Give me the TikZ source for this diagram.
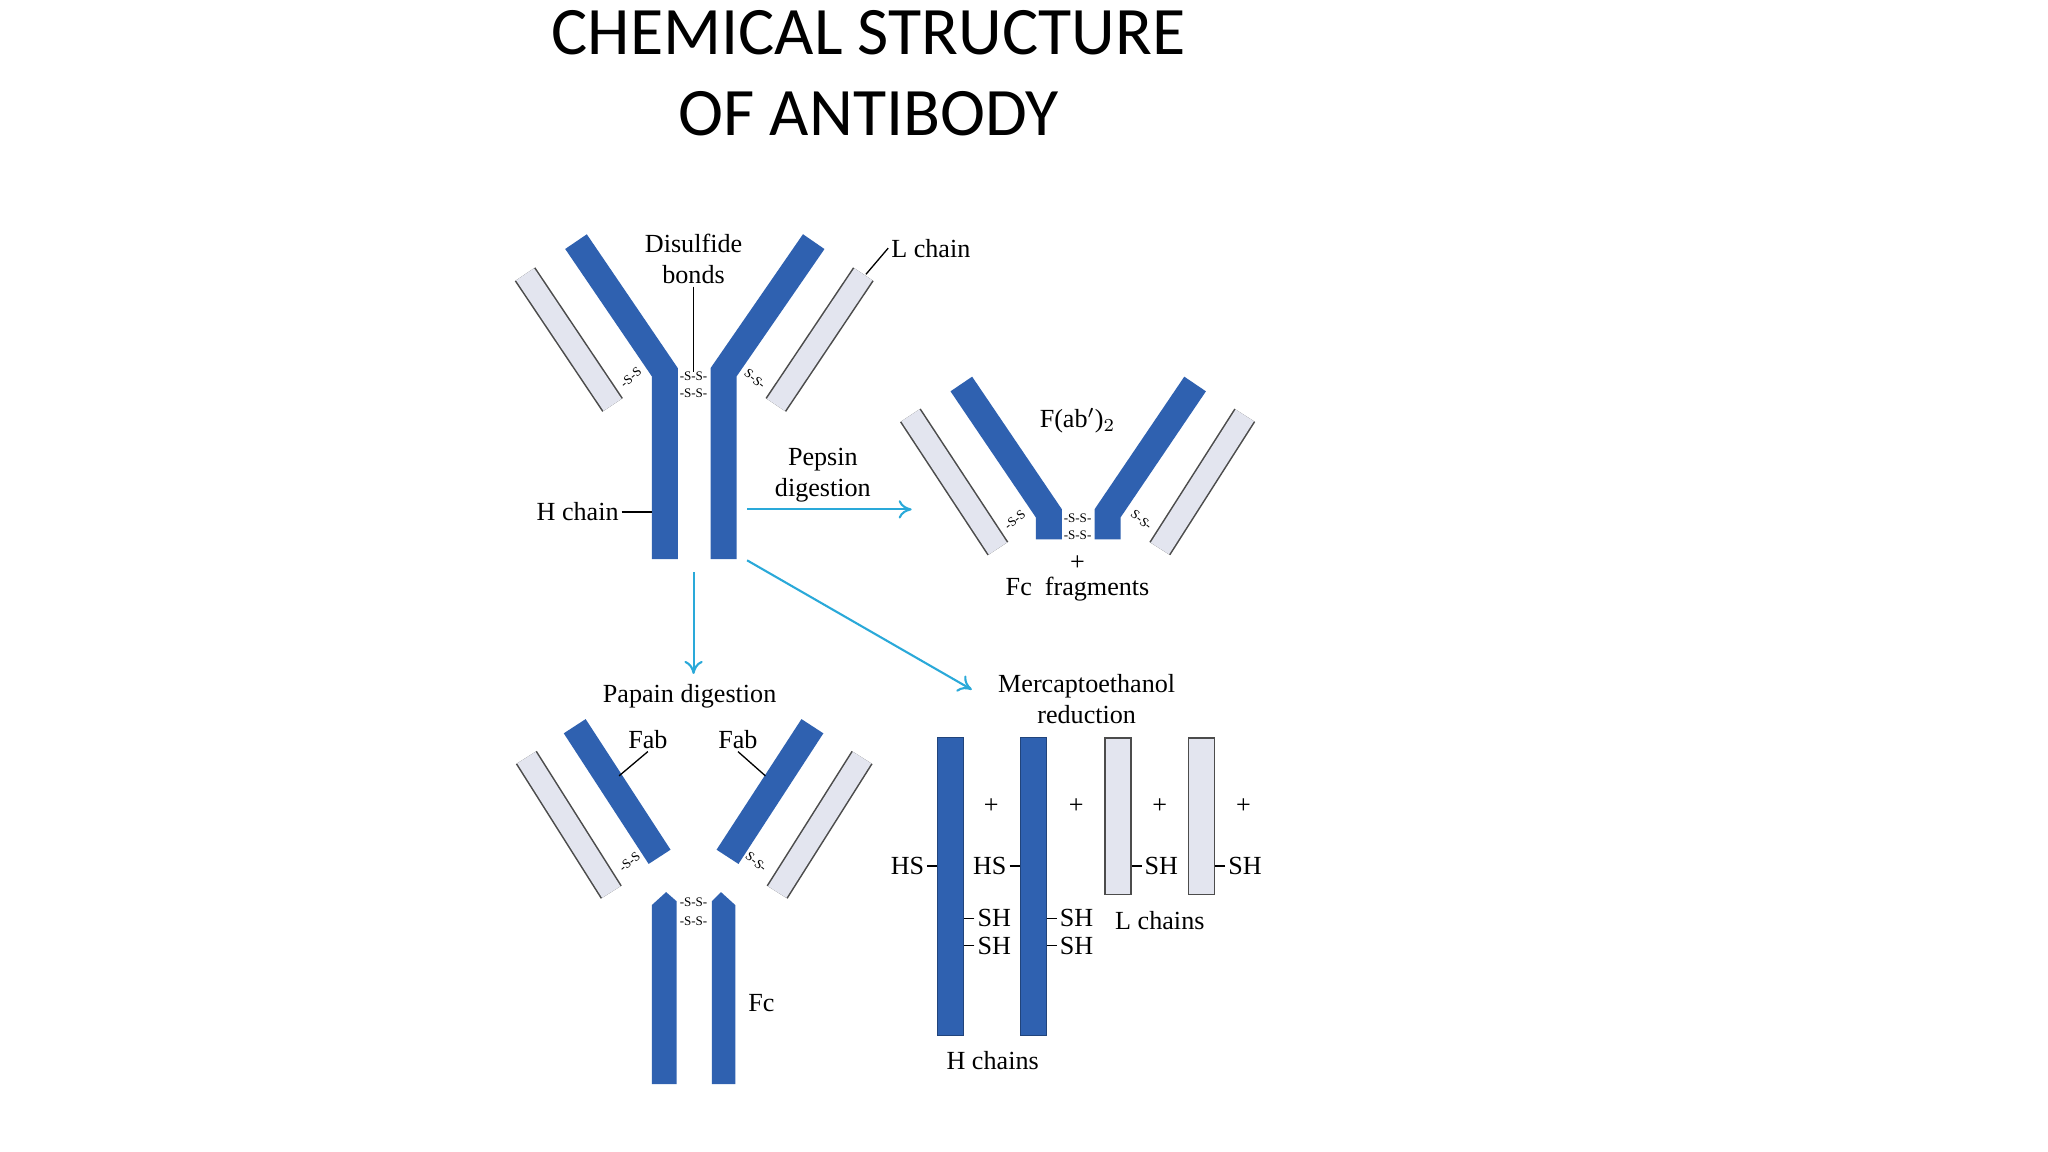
\documentclass[tikz,border=0pt]{standalone}
\usepackage{fontspec}
\setmainfont{Liberation Serif}
\newfontfamily\titlefont{Carlito}
\usetikzlibrary{arrows.meta}
\definecolor{hblue}{HTML}{2F61B0}
\definecolor{lgray}{HTML}{E3E5EF}
\definecolor{arr}{HTML}{2AA9D9}
\tikzset{
 heavy/.style={draw=hblue,line width=10pt,line join=miter},
 lightout/.style={draw=black!70,line width=9.5pt},
 lightin/.style={draw=lgray,line width=8.3pt},
 lbl/.style={font=\fontsize{10}{12}\selectfont,inner sep=1pt,align=center},
 ssl/.style={font=\fontsize{5}{5}\selectfont,inner sep=0pt},
 arrow/.style={draw=arr,line width=0.8pt,-{To[length=5pt,width=7pt]}},
 lead/.style={draw=black,line width=0.5pt},
 hrect/.style={fill=hblue,draw=hblue!70!black,line width=0.4pt},
 lrect/.style={fill=lgray,draw=black!70,line width=0.5pt}
}
\newcommand{\lchain}[2]{\draw[lightout] #1 -- #2; \draw[lightin] #1 -- #2;}
\begin{document}
\begin{tikzpicture}[x=0.5pt,y=-0.5pt]
\useasboundingbox[fill=white] (0,0) rectangle (1568,882);
% title
\node[font=\titlefont\fontsize{26}{31}\selectfont] (t1) at (665,25) {CHEMICAL STRUCTURE};
\node[font=\titlefont\fontsize{26}{31}\selectfont] (t2) at (665,87) {OF ANTIBODY};
% main antibody
\lchain{(402,210)}{(469,310)}
\lchain{(661,210)}{(594,310)}
\draw[heavy] (509,428) -- (509,285) -- (441,185);
\draw[heavy] (554,428) -- (554,285) -- (623,185);
\node[ssl,rotate=40] (s1) at (483,289) {-S-S};
\node[ssl] (s2) at (531,288) {-S-S-};
\node[ssl] (s3) at (531,301) {-S-S-};
\node[ssl,rotate=-40] (s4) at (578,290) {S-S-};
\node[lbl] (dis) at (531,198) {Disulfide\\bonds};
\coordinate (disb) at (531,285);
\draw[lead] (dis.south) -- (disb);
\node[lbl,anchor=west] (lc) at (680,190) {L chain};
\coordinate (lcb) at (663,210);
\draw[lead] (lc.west) -- (lcb);
\node[lbl,anchor=east] (hc) at (476,392) {H chain};
\coordinate (hcb) at (499,392);
\draw[lead] (hc.east) -- (hcb);
% arrows
\coordinate (pa) at (572,390); \coordinate (pb) at (698,390);
\draw[arrow] (pa) -- (pb);
\node[lbl] (pep) at (630,364) {Pepsin\\digestion};
\coordinate (da) at (531,438); \coordinate (db) at (531,516);
\draw[arrow] (da) -- (db);
\coordinate (ma) at (572,429); \coordinate (mb) at (744,528);
\draw[arrow] (ma) -- (mb);
% F(ab')2
\lchain{(697,318)}{(764,420)}
\lchain{(953,318)}{(888,420)}
\draw[heavy] (803,413) -- (803,393) -- (736,294);
\draw[heavy] (848,413) -- (848,393) -- (915,294);
\node[ssl,rotate=40] (f1) at (777,398) {-S-S};
\node[ssl] (f2) at (825,397) {-S-S-};
\node[ssl] (f3) at (825,410) {-S-S-};
\node[ssl,rotate=-40] (f4) at (874,398) {S-S-};
\node[lbl] (fab2) at (825,322) {F(ab$'$)$_2$};
\node[lbl] (plus0) at (825,431) {+};
\node[lbl] (fcf) at (825,451) {Fc\ \ fragments};
% papain
\node[lbl] (pap) at (528,533) {Papain digestion};
\lchain{(403,580)}{(468,683)}
\lchain{(660,580)}{(595,683)}
\draw[heavy] (440,556) -- (505,656);
\draw[heavy] (622,556) -- (557,656);
\node[ssl,rotate=40] (p1) at (482,660) {-S-S};
\node[ssl,rotate=-40] (p2) at (579,660) {S-S-};
\node[lbl] (fabl) at (496,566) {Fab};
\node[lbl] (fabr) at (565,566) {Fab};
\coordinate (fla) at (474,594); \coordinate (fra) at (586,594);
\draw[lead] (fabl.south) -- (fla);
\draw[lead] (fabr.south) -- (fra);
\fill[hblue] (499,830) -- (499,693) -- (510,683) -- (518,690) -- (518,830) -- cycle;
\fill[hblue] (563,830) -- (563,693) -- (552,683) -- (545,690) -- (545,830) -- cycle;
\node[ssl] (p3) at (531,691) {-S-S-};
\node[ssl] (p4) at (531,705) {-S-S-};
\node[lbl] (fc) at (583,768) {Fc};
% mercaptoethanol
\node[lbl] (mer) at (832,535) {Mercaptoethanol\\reduction};
\node[hrect,minimum width=10pt,minimum height=114pt,inner sep=0pt] (h1) at (728,679) {};
\node[hrect,minimum width=10pt,minimum height=114pt,inner sep=0pt] (h2) at (791,679) {};
\node[lrect,minimum width=10pt,minimum height=60pt,inner sep=0pt] (l1) at (856,625) {};
\node[lrect,minimum width=10pt,minimum height=60pt,inner sep=0pt] (l2) at (920,625) {};
\foreach \x/\n in {759/a,824/b,888/c,952/d} \node[lbl] (plus\n) at (\x,617) {+};
\node[lbl,anchor=east] (hs1) at (710,663) {HS};
\node[lbl,anchor=east] (hs2) at (773,663) {HS};
\draw[lead] (hs1.east) -- (hs1.east -| h1.west);
\draw[lead] (hs2.east) -- (hs2.east -| h2.west);
\node[lbl,anchor=west] (sh1) at (874,663) {SH};
\node[lbl,anchor=west] (sh2) at (938,663) {SH};
\draw[lead] (sh1.west) -- (sh1.west -| l1.east);
\draw[lead] (sh2.west) -- (sh2.west -| l2.east);
\foreach \y/\n in {703/a,724/b}{
 \node[lbl,anchor=west] (sha\n) at (746,\y) {SH};
 \draw[lead] (sha\n.west) -- (sha\n.west -| h1.east);
 \node[lbl,anchor=west] (shb\n) at (809,\y) {SH};
 \draw[lead] (shb\n.west) -- (shb\n.west -| h2.east);
}
\node[lbl] (lcs) at (888,705) {L chains};
\node[lbl] (hcs) at (760,812) {H chains};
\end{tikzpicture}
\end{document}
